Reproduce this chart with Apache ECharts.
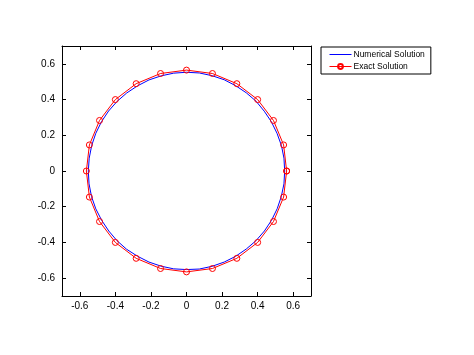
<!DOCTYPE html>
<html>
<head>
<meta charset="utf-8">
<script src="https://cdn.jsdelivr.net/npm/echarts@6/dist/echarts.min.js"></script>
<style>
  html, body { margin: 0; padding: 0; background: #fff; }
  #chart { width: 474px; height: 355px; }
</style>
</head>
<body>
<div id="chart"></div>
<script>
// tick labels shared by both axes
const TICKS = [-0.6, -0.4, -0.2, 0, 0.2, 0.4, 0.6];

// Exact Solution (red, circle markers)
const exactX = [0.563, 0.546, 0.489, 0.400, 0.283, 0.146, 0.000, -0.146, -0.283, -0.400, -0.489, -0.546,
                -0.563, -0.546, -0.489, -0.400, -0.283, -0.146, 0.000, 0.146, 0.283, 0.400, 0.489, 0.546, 0.563];
const exactY = [0.000, 0.146, 0.283, 0.400, 0.489, 0.546, 0.565, 0.546, 0.489, 0.400, 0.283, 0.146,
                0.000, -0.146, -0.283, -0.400, -0.489, -0.546, -0.565, -0.546, -0.489, -0.400, -0.283, -0.146, 0.000];

// Numerical Solution (blue line)
const numX = [0.552, 0.548, 0.534, 0.509, 0.477, 0.437, 0.391, 0.336, 0.276, 0.212, 0.143, 0.072,
              0.000, -0.072, -0.142, -0.211, -0.275, -0.336, -0.390, -0.438, -0.478, -0.510, -0.533, -0.547,
              -0.552, -0.548, -0.534, -0.510, -0.477, -0.437, -0.391, -0.337, -0.276, -0.211, -0.143, -0.072,
              0.000, 0.072, 0.143, 0.212, 0.276, 0.336, 0.390, 0.438, 0.478, 0.510, 0.533, 0.548, 0.552];
const numY = [0.000, 0.072, 0.142, 0.211, 0.276, 0.335, 0.391, 0.438, 0.478, 0.511, 0.534, 0.549,
              0.553, 0.548, 0.533, 0.510, 0.477, 0.437, 0.390, 0.336, 0.276, 0.211, 0.143, 0.072,
              0.000, -0.072, -0.143, -0.212, -0.276, -0.336, -0.390, -0.438, -0.477, -0.510, -0.533, -0.548,
              -0.552, -0.549, -0.534, -0.510, -0.478, -0.437, -0.391, -0.336, -0.276, -0.211, -0.143, -0.072, 0.000];

const zip = (xs, ys) => xs.map((x, i) => [x, ys[i]]);
const fmt = v => String(v).replace('\u2212', '-');

const FONT = 'Liberation Sans, Arial, sans-serif';

function axis(pos, labels) {
    return {
        type: 'value',
        position: pos,
        min: -0.7,
        max: 0.7,
        axisLine: { show: true, onZero: false, lineStyle: { color: '#000', width: 1 } },
        axisTick: { show: true, inside: true, length: 4, customValues: TICKS, lineStyle: { color: '#000' } },
        axisLabel: {
            show: labels,
            customValues: TICKS,
            formatter: fmt,
            color: '#000',
            fontSize: 10,
            fontFamily: FONT,
            margin: pos === 'bottom' ? 5 : 7
        },
        splitLine: { show: false }
    };
}

const option = {
    animation: false,
    backgroundColor: '#fff',
    grid: { left: 62, top: 46, width: 249, height: 250 },
    xAxis: [axis('bottom', true), axis('top', false)],
    yAxis: [axis('left', true), axis('right', false)],
    legend: {
        orient: 'vertical',
        left: 321,
        top: 47,
        data: [
            { name: 'Numerical Solution', icon: 'path://M0,0 H22 V1 H0 Z' },
            { name: 'Exact Solution', lineStyle: { color: '#ff0000', width: 1 } }
        ],
        backgroundColor: '#fff',
        borderColor: '#000',
        borderWidth: 1,
        borderRadius: 0,
        padding: [3, 6, 3, 8],
        itemWidth: 22,
        itemHeight: 6,
        itemGap: 3,
        lineStyle: { width: 1 },
        textStyle: { fontSize: 8.5, fontFamily: FONT, color: '#000', padding: [0, 0, 0, -3] }
    },
    series: [
        {
            name: 'Numerical Solution',
            type: 'line',
            xAxisIndex: 0,
            yAxisIndex: 0,
            data: zip(numX, numY),
            symbol: 'none',
            color: '#0000ff',
            lineStyle: { color: '#0000ff', width: 1 }
        },
        {
            name: 'Exact Solution',
            type: 'line',
            xAxisIndex: 0,
            yAxisIndex: 0,
            data: zip(exactX, exactY),
            symbol: 'circle',
            symbolSize: 6,
            color: '#ff0000',
            itemStyle: { color: 'rgba(255,255,255,0)', borderColor: '#ff0000', borderWidth: 1 },
            lineStyle: { color: '#ff0000', width: 1 }
        }
    ]
};

const chart = echarts.init(document.getElementById('chart'), null, { renderer: 'canvas' });
chart.setOption(option);
</script>
</body>
</html>
